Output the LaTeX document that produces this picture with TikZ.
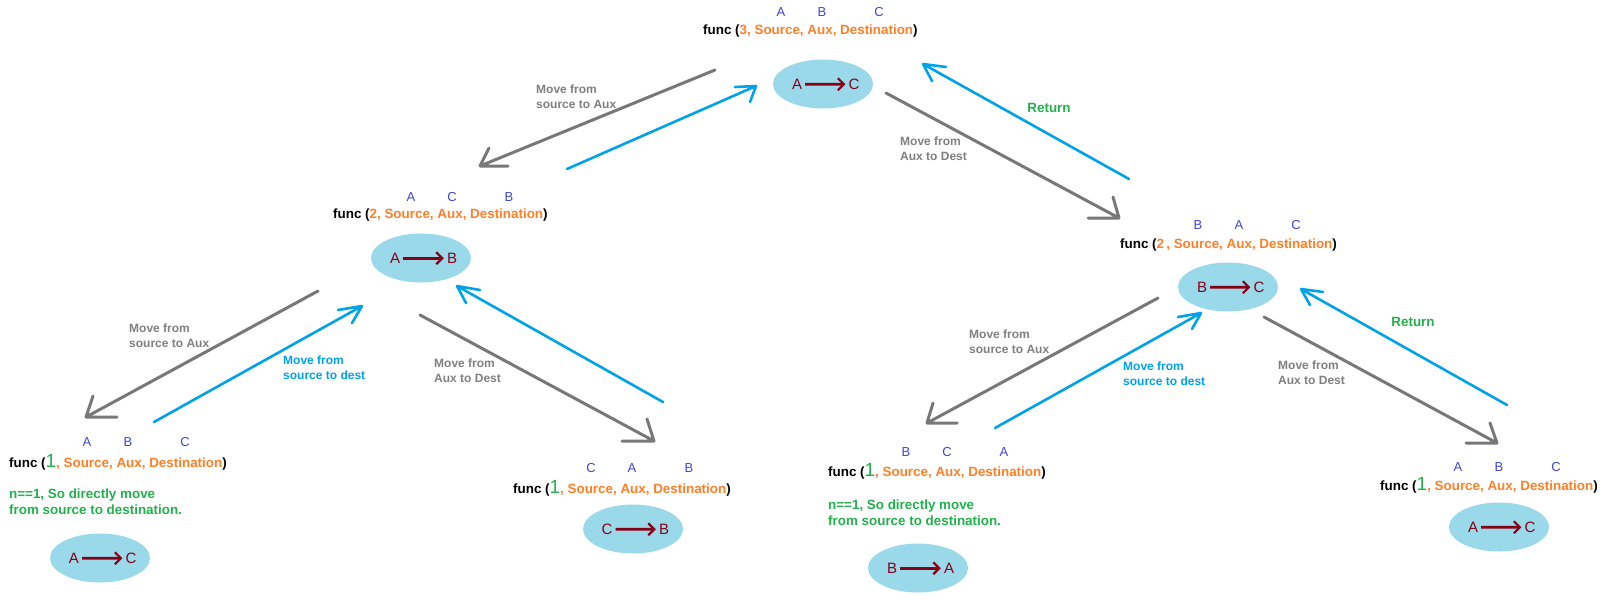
\documentclass[tikz,border=0pt]{standalone}
\usepackage{fontspec}
\setmainfont{Liberation Sans}
\usetikzlibrary{shapes.geometric,arrows.meta,calc}
\definecolor{pgray}{RGB}{120,120,120}
\definecolor{lgray}{RGB}{128,128,128}
\definecolor{pblue}{RGB}{0,162,232}
\definecolor{pell}{RGB}{153,217,234}
\definecolor{pred}{RGB}{136,0,21}
\definecolor{pgreen}{RGB}{34,177,76}
\definecolor{pind}{RGB}{63,72,204}
\definecolor{porange}{RGB}{255,127,39}
\tikzset{
  funcline/.style={anchor=base west, inner sep=0pt, font=\fontsize{13.4}{16}\selectfont\bfseries},
  peg/.style={anchor=base, inner sep=0pt, text=pind, font=\fontsize{13}{16}\selectfont},
  bubble/.style={ellipse, fill=pell, minimum width=100pt, minimum height=49pt, inner sep=0pt},
  disk/.style={anchor=base, inner sep=0pt, text=pred, font=\fontsize{15}{18}\selectfont},
  movearrow/.style={draw=pred, line width=2.6pt, shorten <=3pt, shorten >=3pt,
    -{Straight Barb[length=6pt,width=12pt,line width=2.2pt]}},
  grayline/.style={draw=pgray, line width=3pt, line cap=round, line join=round},
  blueline/.style={draw=pblue, line width=2.6pt, line cap=round, line join=round},
  graylabel/.style={anchor=base west, inner sep=0pt, align=left, text=lgray, font=\fontsize{12}{15}\selectfont\bfseries},
  bluelabel/.style={anchor=base west, inner sep=0pt, align=left, text=pblue, font=\fontsize{12}{15}\selectfont\bfseries},
  retlabel/.style={anchor=base, inner sep=0pt, text=pgreen, font=\fontsize{13.4}{16}\selectfont\bfseries},
  note/.style={anchor=base west, inner sep=0pt, align=left, text=pgreen, font=\fontsize{13.4}{16.5}\selectfont\bfseries},
}
\newcommand\fcall[1]{func (\textcolor{porange}{#1, Source, Aux, Destination})}
\newcommand\onearg{\textcolor{pgreen}{\fontsize{19}{16}\selectfont\mdseries 1}}
% name, funcleft, funcY, lettersY, arg, L1, L2, L3
\newcommand\callblock[8]{%
  \node[funcline] (#1f) at (#2,#3+5) {\fcall{#5}};
  \node[peg] (#1a) at (#2+78,#4+4.7) {#6};
  \node[peg] (#1b) at (#2+119,#4+4.7) {#7};
  \node[peg] (#1c) at (#2+176,#4+4.7) {#8};
}
% name, cx, cy, from, to
\newcommand\movebubble[5]{%
  \node[bubble] (#1) at (#2,#3) {};
  \node[disk] (#1s) at (#2-26,#3+5.4) {#4};
  \node[disk] (#1d) at (#2+31,#3+5.4) {#5};
  \draw[movearrow] (#1s.east) -- (#1d.west);
}
\begin{document}
\begin{tikzpicture}[x=1pt,y=-1pt]
\useasboundingbox[fill=white] (0,0) rectangle (1600,606);

% call blocks
\callblock{top}{703}{29}{12}{3}{A}{B}{C}
\callblock{lt}{333}{213}{197}{2}{A}{C}{B}
\callblock{rt}{1120}{243}{225}{2\,}{B}{A}{C}
\callblock{ba}{9}{462}{442}{\onearg}{A}{B}{C}
\callblock{bb}{513}{488}{468}{\onearg}{C}{A}{B}
\callblock{bc}{828}{471}{452}{\onearg}{B}{C}{A}
\callblock{bd}{1380}{485}{467}{\onearg}{A}{B}{C}

% move bubbles
\movebubble{mtop}{823}{84}{A}{C}
\movebubble{mlt}{421}{258}{A}{B}
\movebubble{mrt}{1228}{287}{B}{C}
\movebubble{mba}{100}{558}{A}{C}
\movebubble{mbb}{633}{529}{C}{B}
\movebubble{mbc}{918}{568}{B}{A}
\movebubble{mbd}{1499}{527}{A}{C}

% notes (base anchor = baseline of the last line)
\node[note] (na) at (9,514.5) {n==1, So directly move\\from source to destination.};
\node[note] (nc) at (828,525.5) {n==1, So directly move\\from source to destination.};

% arrows: start / tip coordinates
\coordinate (s1) at (715,70);   \coordinate (t1) at (480,166);
\coordinate (s2) at (567,169);  \coordinate (t2) at (756,86);
\coordinate (s3) at (886,93);   \coordinate (t3) at (1119,218);
\coordinate (s4) at (1129,179); \coordinate (t4) at (923,64);
\coordinate (s5) at (318,291);  \coordinate (t5) at (86,417);
\coordinate (s6) at (154,422);  \coordinate (t6) at (362,306);
\coordinate (s7) at (420,315);  \coordinate (t7) at (654,441);
\coordinate (s8) at (663,402);  \coordinate (t8) at (457,286);
\coordinate (s9) at (1158,298); \coordinate (t9) at (927,423);
\coordinate (s10) at (995,428); \coordinate (t10) at (1201,313);
\coordinate (s11) at (1264,317);\coordinate (t11) at (1497,443);
\coordinate (s12) at (1507,405);\coordinate (t12) at (1301,289);

\draw[grayline] (s1) -- (t1) -- ++(9,-18) (t1) -- ++(28,0);
\draw[blueline] (s2) -- (t2) -- ++(-21,1) (t2) -- ++(-6,16);
\draw[grayline] (s3) -- (t3) -- ++(-31,0) (t3) -- ++(-6,-21);
\draw[blueline] (s4) -- (t4) -- ++(23,3) (t4) -- ++(9,17);
\draw[grayline] (s5) -- (t5) -- ++(31,0) (t5) -- ++(7,-21);
\draw[blueline] (s6) -- (t6) -- ++(-24,4) (t6) -- ++(-10,17);
\draw[grayline] (s7) -- (t7) -- ++(-32,0) (t7) -- ++(-7,-22);
\draw[blueline] (s8) -- (t8) -- ++(23,4) (t8) -- ++(9,17);
\draw[grayline] (s9) -- (t9) -- ++(30,0) (t9) -- ++(6,-20);
\draw[blueline] (s10) -- (t10) -- ++(-23,4) (t10) -- ++(-9,16);
\draw[grayline] (s11) -- (t11) -- ++(-31,0) (t11) -- ++(-7,-20);
\draw[blueline] (s12) -- (t12) -- ++(22,3) (t12) -- ++(9,16);

% labels (base anchor = baseline of the last line)
\node[graylabel] (l1) at (536,108.3) {Move from\\source to Aux};
\node[graylabel] (l3) at (900,160.3) {Move from\\Aux to Dest};
\node[retlabel] (l4) at (1049,112) {Return};
\node[graylabel] (l5) at (129,347.3) {Move from\\source to Aux};
\node[bluelabel] (l6) at (283,379.3) {Move from\\source to dest};
\node[graylabel] (l7) at (434,382.3) {Move from\\Aux to Dest};
\node[graylabel] (l9) at (969,353.3) {Move from\\source to Aux};
\node[bluelabel] (l10) at (1123,385.3) {Move from\\source to dest};
\node[graylabel] (l11) at (1278,384.3) {Move from\\Aux to Dest};
\node[retlabel] (l12) at (1413,326) {Return};
\end{tikzpicture}
\end{document}
